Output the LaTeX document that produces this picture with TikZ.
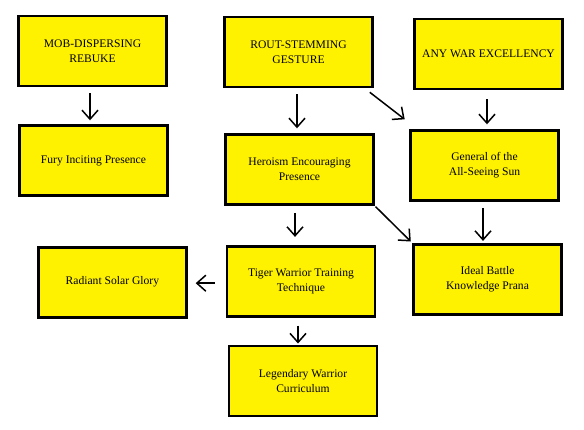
\documentclass[tikz,border=0pt]{standalone}
\usepackage{fontspec}
\setmainfont{Liberation Serif}
\usetikzlibrary{arrows.meta, positioning}

\begin{document}
\begin{tikzpicture}[
    x=1pt, y=-1pt,
    node distance=40pt,
    every node/.style={font=\fontsize{11.6}{15}\selectfont},
    box/.style={draw, rectangle, fill=yellow, line width=2.6pt, minimum width=148pt, minimum height=70pt, align=center, inner sep=2pt},
    link/.style={-{Straight Barb[length=9pt, width=16pt]}, line width=1.5pt}
    ]
    \useasboundingbox (0,0) rectangle (584,429);
    \node[box] (mob) at (92.5,51) {MOB-DISPERSING\\REBUKE};
    \node[box] (rout) at (298.5,52) {ROUT-STEMMING\\GESTURE};
    \node[box] (anywar) at (488.5,54) {ANY WAR EXCELLENCY};
    \node[box, below=37pt of mob, xshift=1pt] (fury) {Fury Inciting Presence};
    \node[box, below=45pt of rout, xshift=1pt] (heroism) {Heroism Encouraging\\Presence};
    \node[box, below=39pt of anywar, xshift=-4pt] (general) {General of the\\All-Seeing Sun};
    \node[box, below=39pt of heroism, xshift=1.5pt] (tiger) {Tiger Warrior Training\\Technique};
    \node[box, below=41pt of general, xshift=3pt] (ideal) {Ideal Battle\\Knowledge Prana};
    \node[box, below=27pt of tiger, xshift=2pt] (legendary) {Legendary Warrior\\Curriculum};
    \node[box, left=38pt of tiger, yshift=-1pt] (radiant) {Radiant Solar Glory};
    % connectors
    \draw[link, shorten <=6pt, shorten >=4pt] ([xshift=-2.5pt]mob.south) -- ([xshift=-3.5pt]fury.north);
    \draw[link, shorten <=6pt, shorten >=5pt] ([xshift=-1.5pt]rout.south) -- ([xshift=-2.5pt]heroism.north);
    \draw[link] ([shift={(-4,4)}]rout.south east) -- ([shift={(-4.5,-10)}]general.north west);
    \draw[link, shorten <=9pt, shorten >=5pt] ([xshift=-1.5pt]anywar.south) -- ([xshift=2.5pt]general.north);
    \draw[link, shorten <=7pt, shorten >=8pt] ([xshift=-4.5pt]heroism.south) -- ([xshift=-6pt]tiger.north);
    \draw[link, shorten <=1pt, shorten >=2pt] (heroism.south east) -- (ideal.north west);
    \draw[link, shorten <=6pt, shorten >=2pt] ([xshift=-1.5pt]general.south) -- ([xshift=-4.5pt]ideal.north);
    \draw[link, shorten <=11pt, shorten >=8pt] ([yshift=-2pt]tiger.west) -- ([yshift=-1pt]radiant.east);
    \draw[link, shorten <=8pt, shorten >=1pt] ([xshift=-3pt]tiger.south) -- ([xshift=-5pt]legendary.north);
\end{tikzpicture}
\end{document}
